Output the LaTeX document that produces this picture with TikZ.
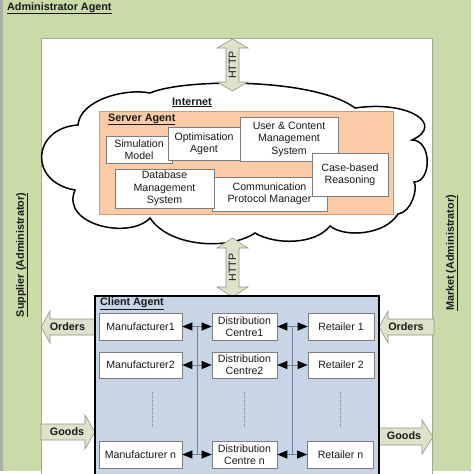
\documentclass[tikz,border=0pt]{standalone}
\usepackage{fontspec}
\setmainfont{Liberation Sans}
\usetikzlibrary{arrows.meta}
\definecolor{grn}{RGB}{201,219,169}
\definecolor{grnline}{RGB}{160,172,140}
\definecolor{edgegray}{RGB}{170,175,160}
\definecolor{salmon}{RGB}{251,203,168}
\definecolor{salmonline}{RGB}{205,155,120}
\definecolor{cblue}{RGB}{199,213,231}
\definecolor{boxline}{RGB}{125,125,125}
\definecolor{arrowfill}{RGB}{221,226,203}
\definecolor{arrowline}{RGB}{145,150,135}
\definecolor{linkcol}{RGB}{115,130,150}
\definecolor{txt}{RGB}{25,25,25}
\tikzset{
  wbox/.style={draw=boxline, fill=white, inner sep=0pt, align=center, line width=0.6pt, text=txt},
  lbl/.style={font=\fontsize{10.8}{13}\selectfont\bfseries, inner sep=0pt, text=txt},
  blockarrow/.style={fill=arrowfill, draw=arrowline, line width=0.6pt, line join=miter},
  link/.style={draw=linkcol, line width=0.8pt, {Triangle[length=10pt,width=8pt,color=black]}-{Triangle[length=10pt,width=8pt,color=black]}},
  vline/.style={draw=linkcol, line width=0.8pt},
  dots/.style={draw=linkcol, line width=1pt, dash pattern=on 1pt off 1pt},
}
\begin{document}
\begin{tikzpicture}[x=1pt, y=-1pt, font=\fontsize{10.6}{12.4}\selectfont]
\useasboundingbox (0,0) rectangle (474,474);
% background frame
\fill[white] (0,0) rectangle (474,474);
\fill[edgegray] (0,0) rectangle (3,471);
\fill[grn] (3,0) rectangle (471,471);
\draw[grnline, line width=0.8pt, fill=white] (41,38) rectangle (432,476);
\node[lbl, anchor=base west] (admin) at (7,10) {\underline{Administrator Agent}};
\node[lbl, rotate=90] (supplier) at (22,255) {\underline{Supplier (Administrator)}};
\node[lbl, rotate=90] (market) at (452,253) {\underline{Market (Administrator)}};

% cloud
\draw[line width=1.5pt, fill=white] (78,125)
  .. controls (80,100) and (125,88) .. (150,93)
  .. controls (185,78) and (315,78) .. (355,108)
  .. controls (410,100) and (445,125) .. (412,140)
  .. controls (432,140) and (432,182) .. (414,182)
  .. controls (418,188) and (412,212) .. (398,214)
  .. controls (385,235) and (345,238) .. (330,226)
  .. controls (315,245) and (275,245) .. (255,233)
  .. controls (230,250) and (170,248) .. (150,218)
  .. controls (130,240) and (60,225) .. (75,190)
  .. controls (28,182) and (32,128) .. cycle;
\node[lbl, anchor=base] (internet) at (192,105) {\underline{Internet}};

% server agent
\draw[fill=salmon, draw=salmonline, line width=0.6pt] (99,111) rectangle (393,214);
\node[lbl, anchor=base west] (server) at (108,121) {\underline{Server Agent}};
\node[wbox, minimum width=66pt, minimum height=27pt] (sim) at (139,149.5) {Simulation\\Model};
\node[wbox, minimum width=72pt, minimum height=33pt] (opt) at (204,143.5) {Optimisation\\Agent};
\node[wbox, minimum width=98pt, minimum height=44pt] (ucms) at (289,139) {User \& Content\\Management\\System};
\node[wbox, minimum width=115pt, minimum height=34pt] (cpm) at (269.5,194) {Communication\\Protocol Manager};
\node[wbox, minimum width=99pt, minimum height=39pt] (dbms) at (164.5,188.5) {Database\\Management\\System};
\node[wbox, minimum width=76pt, minimum height=43pt] (cbr) at (350,174.5) {Case-based\\Reasoning};

% HTTP arrows
\draw[blockarrow] (232.5,39) -- (248,48) -- (239,48) -- (239,82) -- (248,82) -- (232.5,91)
  -- (217,82) -- (226,82) -- (226,48) -- (217,48) -- cycle;
\node[rotate=90, inner sep=0pt, text=txt] (http1) at (232.5,65) {HTTP};
\draw[blockarrow] (232.5,238) -- (248,248) -- (239,248) -- (239,287) -- (248,287) -- (232.5,297)
  -- (217,287) -- (226,287) -- (226,248) -- (217,248) -- cycle;
\node[rotate=90, inner sep=0pt, text=txt] (http2) at (232.5,267.5) {HTTP};

% side arrows
\draw[blockarrow] (41,327) -- (50,311) -- (50,319) -- (97,319) -- (97,335) -- (50,335) -- (50,343) -- cycle;
\draw[blockarrow] (41,424) -- (85,424) -- (85,415) -- (95,432) -- (85,449) -- (85,440) -- (41,440) -- cycle;
\draw[blockarrow] (379,327) -- (388,311) -- (388,319) -- (434,319) -- (434,335) -- (388,335) -- (388,343) -- cycle;
\draw[blockarrow] (378,428) -- (422,428) -- (422,420) -- (433,437) -- (422,454) -- (422,445) -- (378,445) -- cycle;

% client agent
\draw[fill=cblue, draw=black, line width=1.3pt] (95,296) rectangle (379,480);
\node[lbl, anchor=base west] (client) at (100,305.5) {\underline{Client Agent}};
\node[lbl] (ordersL) at (67.5,327) {Orders};
\node[lbl] (ordersR) at (406,327) {Orders};
\node[lbl] (goodsL) at (67,431.5) {Goods};
\node[lbl] (goodsR) at (404,436) {Goods};

\node[wbox, minimum width=83pt, minimum height=27pt] (m1) at (140.5,326.5) {Manufacturer1};
\node[wbox, minimum width=65pt, minimum height=27pt] (d1) at (244.5,326.5) {Distribution\\Centre1};
\node[wbox, minimum width=66pt, minimum height=27pt] (r1) at (341,326.5) {Retailer 1};
\node[wbox, minimum width=83pt, minimum height=26pt] (m2) at (140.5,365) {Manufacturer2};
\node[wbox, minimum width=65pt, minimum height=26pt] (d2) at (244.5,365) {Distribution\\Centre2};
\node[wbox, minimum width=66pt, minimum height=26pt] (r2) at (341,365) {Retailer 2};
\node[wbox, minimum width=83pt, minimum height=27pt] (mn) at (140.5,454.5) {Manufacturer n};
\node[wbox, minimum width=65pt, minimum height=27pt] (dn) at (244.5,454.5) {Distribution\\Centre n};
\node[wbox, minimum width=66pt, minimum height=27pt] (rn) at (340.5,454.5) {Retailer n};

\coordinate (v1t) at (197,326.5);
\coordinate (v1b) at (197,454.5);
\coordinate (v2t) at (292,326.5);
\coordinate (v2b) at (292,454.5);
\draw[vline] (v1t) -- (v1b);
\draw[vline] (v2t) -- (v2b);
\draw[link] (m1) -- (d1);
\draw[link] (d1) -- (r1);
\draw[link] (m2) -- (d2);
\draw[link] (d2) -- (r2);
\draw[link] (mn) -- (dn);
\draw[link] (dn) -- (rn);

\coordinate (dm1) at (152,392); \coordinate (dm2) at (152,427);
\coordinate (dd1) at (244,392); \coordinate (dd2) at (244,427);
\coordinate (dr1) at (340,392); \coordinate (dr2) at (340,427);
\draw[dots] (dm1) -- (dm2);
\draw[dots] (dd1) -- (dd2);
\draw[dots] (dr1) -- (dr2);
\end{tikzpicture}
\end{document}
